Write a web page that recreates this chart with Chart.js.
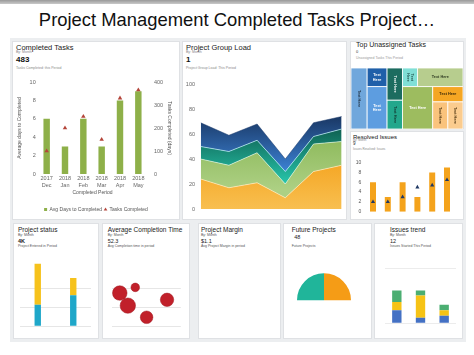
<!DOCTYPE html>
<html><head><meta charset="utf-8">
<script src="https://cdn.jsdelivr.net/npm/chart.js@4"></script>
<style>
html,body{margin:0;padding:0;background:#fff;}
#root{position:relative;width:474px;height:355px;overflow:hidden;font-family:"Liberation Sans",Arial,sans-serif;}
.panel{position:absolute;background:#fff;border:1px solid #dfe1e4;box-sizing:border-box;}
.t{position:absolute;white-space:nowrap;line-height:1;}
canvas{position:absolute;}
</style></head><body><div id="root"></div>
<script>
// ---------------- DATA ----------------
const completedLabels = [['2017','Dec'],['2018','Jan'],['2018','Feb'],['2018','Mar'],['2018','Apr'],['2018','May']];
const avgDaysToCompleted = [6,3,6,3,8,9];
const tasksCompleted = [100,200,250,150,330,365];

const groupLoadLabels = ['P1','P2','P3','P4','P5','P6'];
const loadOrange = [24,17,21,9,30,35];
const loadGreen  = [16,18,24,11,22,19];
const loadTeal   = [10,11,10,10,6,10];
const loadBlue   = [19,13,13,10,11,10];

// treemap layout cells (0-100 layout units, y from top)
const treeX0 = [0, 14.4, 14.4, 32.2, 32.2, 46, 59.5, 46, 73, 73, 86.5];
const treeX1 = [14.4, 32.2, 32.2, 46, 46, 59.5, 100, 73, 100, 86.5, 100];
const treeY0 = [0, 0, 30.6, 0, 52.8, 0, 0, 30.6, 30.6, 55.6, 55.6];
const treeY1 = [100, 30.6, 100, 52.8, 100, 30.6, 30.6, 100, 55.6, 100, 100];
const treeColors = ['#70a7dc','#1f5fa9','#5d9de0','#1c6c5f','#23a78c','#80dfd6','#b7cd8e','#9dbc5f','#f5a623','#fac37c','#fbcc8e'];
const treeText = ['Text Here','Text|Here','Text|Here','Text Here','Text Here','Text|Here','Text Here','Text Here','Text Here','Text Here','Text Here'];
const treeVertical = [true,false,false,true,true,true,false,false,false,true,true];
const treeTextColor = ['#1b2a3a','#fff','#fff','#fff','#12332c','#1f4f4a','#2f3b22','#fff','#3a2a0a','#4a3310','#4a3310'];

const resolvedLabels = ['1','2','3','4','5','6'];
const resolvedIssues = [6,3,6,3,8,9];
const resolvedMarks  = [2,2,3,5,5.4,6.5];

const statusLabels = ['A','B'];
const statusTeal   = [1.15,1.65];
const statusYellow = [2.18,0.92];

const bubbleX = [1.13,3.38,2.3,8.0,5.03];
const bubbleY = [1.77,2.07,1.1,1.41,0.48];
const bubbleR = [7.3,4.3,7.7,6.7,6.3];

const futureLabels = ['A','B'];
const futureValues = [50,50];

const trendLabels = ['1','2','3'];
const trendBlue   = [2.4,1.0,1.4];
const trendYellow = [1.5,4.1,1.0];
const trendGreen  = [2.1,0.9,1.0];

// ---------------- LAYOUT ----------------
const root = document.getElementById('root');
function box(l,t,w,h,css){const d=document.createElement('div');d.style.cssText=`position:absolute;left:${l}px;top:${t}px;width:${w}px;height:${h}px;`+(css||'');root.appendChild(d);return d;}
function panel(l,t,r,b){const d=document.createElement('div');d.className='panel';d.style.cssText=`left:${l}px;top:${t}px;width:${r-l}px;height:${b-t}px;`;root.appendChild(d);}
function txt(x,base,size,s,color,bold){const d=document.createElement('div');d.className='t';d.textContent=s;d.style.cssText=`left:${x}px;top:${base-0.8465*size}px;font-size:${size}px;color:${color||'#222'};font-weight:${bold?'bold':'normal'};`;root.appendChild(d);}
function cv(l,t,w,h){const c=document.createElement('canvas');c.width=w;c.height=h;c.style.left=l+'px';c.style.top=t+'px';c.style.width=w+'px';c.style.height=h+'px';root.appendChild(c);return c;}

box(0,0,474,4,'background:linear-gradient(#999,#c9c9c9);');
const ti=document.createElement('div');ti.className='t';ti.textContent='Project Management Completed Tasks Project…';
ti.style.cssText='left:0;width:474px;text-align:center;top:11px;font-size:18.4px;color:#111;';root.appendChild(ti);
box(10,38,456,304,'background:#eceef0;');

panel(12,41,180,220); panel(182,41,347,220); panel(350,41,464,129); panel(350,131,464,220);
panel(13,223,99,339); panel(102,223,190,339); panel(198,223,281,339); panel(283,223,372,339); panel(374,223,463,339);

const G='#8a8a8a';
txt(16,50,7.5,'Completed Tasks','#222'); txt(16,54,3.5,'By: Month',G); txt(16,63,8,'483','#111',true); txt(16,70,3.5,'Tasks Completed: this Period',G);
txt(186,50,7.5,'Project Group Load','#222'); txt(186,54,3.5,'By: Month',G); txt(186,63,8,'1','#111',true); txt(186,70,3.5,'Project Group Load: This Period',G);
txt(356,47,7,'Top Unassigned Tasks','#222'); txt(356,53.3,4,'0','#333'); txt(356,60.3,3.5,'Unassigned Tasks This Period','#999');
txt(353,139,6,'Resolved Issues','#111'); txt(353,141.7,3,'By: Month',G); txt(353,145.7,4.5,'9','#222'); txt(353,151,3,'Issues Resolved: Issues',G);
const bottomTitles=[[18,'Project status','4K','Project Entered in Period',true],[107.7,'Average Completion Time','52.3','Avg Completion time in period',false],[201,'Project Margin','$1.1','Avg Project Margin in period',false],[390,'Issues trend','12','Issues Started This Period',false]];
bottomTitles.forEach(b=>{txt(b[0],233,6.5,b[1],'#222');txt(b[0],237.3,3.5,'By: Month','#555');txt(b[0],243.3,5.5,b[2],'#222',b[4]);txt(b[0],248.3,3.5,b[3],'#555');});
txt(291.7,233,6.5,'Future Projects','#222'); txt(294.3,240,5.5,'48','#222'); txt(291.7,248.3,3.5,'Future Projects','#555');

// ---------------- CHARTS ----------------
Chart.defaults.font.family='"Liberation Sans", Arial, sans-serif';
Chart.defaults.color='#666';
Chart.defaults.animation=false;
Chart.defaults.responsive=false;
Chart.defaults.devicePixelRatio=1;
Chart.defaults.plugins.legend.display=false;
Chart.defaults.plugins.tooltip.enabled=false;

const noGrid={display:false,drawTicks:false};

// 1. Completed Tasks
new Chart(cv(12,72,168,150),{
  data:{labels:completedLabels,datasets:[
    {type:'bar',label:'Avg Days to Completed',data:avgDaysToCompleted,backgroundColor:'#8eb049',yAxisID:'y',barPercentage:0.39,categoryPercentage:0.9,pointStyle:'rect',order:2},
    {type:'line',label:'Tasks Completed',data:tasksCompleted,yAxisID:'y1',showLine:false,pointStyle:'triangle',pointRadius:2.6,backgroundColor:'#b4453a',borderColor:'#b4453a',borderWidth:0,order:1}
  ]},
  options:{
    layout:{padding:{top:10,bottom:0,left:0,right:0}},
    plugins:{legend:{display:true,position:'bottom',labels:{font:{size:5},color:'#555',usePointStyle:true,boxWidth:3,boxHeight:3,padding:2,sort:(a,b)=>a.datasetIndex-b.datasetIndex}}},
    scales:{
      x:{grid:noGrid,border:{display:false},ticks:{font:{size:5.5},color:'#666',padding:1.4,maxRotation:0,autoSkip:false},
         title:{display:true,text:'Completed Period',font:{size:5},color:'#555',padding:{top:0,bottom:9}},afterFit:s=>{s.height=31;}},
      y:{position:'left',min:0,max:10,ticks:{stepSize:2,font:{size:5.5},color:'#666',padding:1.8},grid:noGrid,border:{display:false},
         title:{display:true,text:'Average days to Completed',font:{size:5},color:'#555',padding:{top:5,bottom:0}},afterFit:s=>{s.width=25.5;}},
      y1:{position:'right',min:0,max:400,ticks:{stepSize:100,font:{size:5.5},color:'#666',padding:6.5},grid:noGrid,border:{display:false},
         title:{display:true,text:'Tasks Completed (days)',font:{size:5},color:'#555',padding:{top:7.7,bottom:0}},afterFit:s=>{s.width=32.5;}}
    }
  }
});

// 2. Project Group Load
function vgrad(c0,c1,f0,f1){return ctx=>{const ch=ctx.chart,a=ch.chartArea;if(!a)return c0;const h=a.bottom-a.top;const g=ch.ctx.createLinearGradient(0,a.top+h*f0,0,a.top+h*f1);g.addColorStop(0,c0);g.addColorStop(1,c1);return g;};}
new Chart(cv(182,72,165,146),{
  type:'line',
  data:{labels:groupLoadLabels,datasets:[
    {label:'Orange',data:loadOrange,fill:'origin',backgroundColor:vgrad('#f4a11b','#f8bf50',0.55,1),borderColor:'rgba(255,240,200,0.8)',borderWidth:0.8,pointRadius:0,tension:0},
    {label:'Green',data:loadGreen,fill:'-1',backgroundColor:vgrad('#8cb859','#add084',0.4,0.85),borderColor:'rgba(220,245,230,0.8)',borderWidth:0.8,pointRadius:0,tension:0},
    {label:'Teal',data:loadTeal,fill:'-1',backgroundColor:vgrad('#0f5f50','#26c2a8',0.35,0.78),borderColor:'rgba(190,235,250,0.9)',borderWidth:0.8,pointRadius:0,tension:0},
    {label:'Blue',data:loadBlue,fill:'-1',backgroundColor:vgrad('#193662','#3d85d9',0.25,0.72),borderColor:'#1c3b6b',borderWidth:0.5,pointRadius:0,tension:0}
  ]},
  options:{
    layout:{padding:{top:12,right:5.3,bottom:7.3,left:0}},
    scales:{
      x:{display:false,offset:false},
      y:{stacked:true,min:0,max:100,ticks:{stepSize:20,font:{size:5.5},color:'#666',padding:5.7},grid:noGrid,border:{display:false},afterFit:s=>{s.width=18.7;}}
    }
  }
});

// 3. Treemap
const treemapPlugin={id:'treemapCells',afterDatasetsDraw(chart){
  const {ctx,scales:{x,y}}=chart;
  for(let i=0;i<treeColors.length;i++){
    const x0=x.getPixelForValue(treeX0[i]),x1=x.getPixelForValue(treeX1[i]);
    const y0=y.getPixelForValue(treeY0[i]),y1=y.getPixelForValue(treeY1[i]);
    ctx.save();
    ctx.fillStyle=treeColors[i];ctx.fillRect(x0,y0,x1-x0,y1-y0);
    ctx.strokeStyle='#fff';ctx.lineWidth=0.8;ctx.strokeRect(x0,y0,x1-x0,y1-y0);
    ctx.translate((x0+x1)/2,(y0+y1)/2);
    if(treeVertical[i])ctx.rotate(Math.PI/2);
    ctx.fillStyle=treeTextColor[i];ctx.font='bold 3.8px "Liberation Sans", Arial';ctx.textAlign='center';ctx.textBaseline='middle';
    const lines=treeText[i].split('|');
    lines.forEach((l,k)=>ctx.fillText(l,0,(k-(lines.length-1)/2)*4.4));
    ctx.restore();
  }
}};
new Chart(cv(351,68,112,61),{
  type:'scatter',
  data:{datasets:[{data:[],pointRadius:0}]},
  options:{layout:{padding:0},scales:{x:{display:false,min:0,max:100},y:{display:false,min:0,max:100,reverse:true}}},
  plugins:[treemapPlugin]
});

// 4. Resolved Issues
new Chart(cv(350,153,114,66),{
  data:{labels:resolvedLabels,datasets:[
    {type:'line',data:resolvedMarks,showLine:false,pointStyle:'triangle',pointRadius:2.4,backgroundColor:'#1f3864',borderWidth:0,order:1},
    {type:'bar',data:resolvedIssues,backgroundColor:'#f4a31c',barPercentage:0.45,categoryPercentage:0.9,order:2}
  ]},
  options:{
    layout:{padding:{top:9.7,right:9.6,bottom:7.3,left:0}},
    scales:{
      x:{display:false},
      y:{min:0,max:10,ticks:{stepSize:2,font:{size:5},color:'#555',padding:4.3},grid:noGrid,border:{display:false},afterFit:s=>{s.width=15.6;}}
    }
  }
});

// 5. Project status
const intGrid={drawTicks:false,color:c=>Number.isInteger(c.tick.value)?'#e6e6e6':'rgba(0,0,0,0)',lineWidth:1};
new Chart(cv(14,252,84,86),{
  type:'bar',
  data:{labels:statusLabels,datasets:[
    {data:statusTeal,backgroundColor:'#1fa7c9',barPercentage:0.2,categoryPercentage:0.9},
    {data:statusYellow,backgroundColor:'#f6c21c',barPercentage:0.2,categoryPercentage:0.9}
  ]},
  options:{
    layout:{padding:{top:10.4,right:7,bottom:11.7,left:6}},
    scales:{
      x:{stacked:true,display:false},
      y:{stacked:true,min:0,max:3.4,ticks:{display:false,stepSize:1},grid:intGrid,border:{display:false}}
    }
  }
});

// 6. Average Completion Time (bubble)
new Chart(cv(103,252,86,86),{
  type:'bubble',
  data:{datasets:[{data:bubbleX.map((v,i)=>({x:v,y:bubbleY[i],r:bubbleR[i]})),backgroundColor:'#c1202a',borderColor:'#a01820',borderWidth:0.5}]},
  options:{
    layout:{padding:{top:10.4,right:6,bottom:11.7,left:9}},
    scales:{
      x:{display:false,min:0,max:10},
      y:{min:0,max:3.4,ticks:{display:false,stepSize:1},grid:intGrid,border:{display:false}}
    }
  }
});

// 7. Future Projects (semicircle)
new Chart(cv(284,252,88,86),{
  type:'pie',
  data:{labels:futureLabels,datasets:[{data:futureValues,backgroundColor:['#20b59a','#f59c16'],borderWidth:0}]},
  options:{rotation:-90,circumference:180,layout:{padding:{left:13,right:21,top:21.3,bottom:37.7}}}
});

// 8. Issues trend
new Chart(cv(376,252,86,86),{
  type:'bar',
  data:{labels:trendLabels,datasets:[
    {data:trendBlue,backgroundColor:'#4471c4',barPercentage:0.44,categoryPercentage:0.9},
    {data:trendYellow,backgroundColor:'#f6c315',barPercentage:0.44,categoryPercentage:0.9},
    {data:trendGreen,backgroundColor:'#4bae72',barPercentage:0.44,categoryPercentage:0.9}
  ]},
  options:{
    layout:{padding:{top:16.7,right:6,bottom:14.7,left:9}},
    scales:{
      x:{stacked:true,display:false},
      y:{stacked:true,min:0,max:10,ticks:{display:false,stepSize:10},grid:{drawTicks:false,color:'#ececec'},border:{display:false}}
    }
  }
});
</script></body></html>
